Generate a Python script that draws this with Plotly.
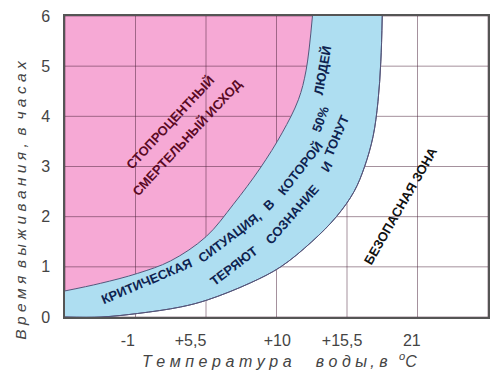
import plotly.graph_objects as go

# --- data (grid-column units on x, hours on y) ---
upper_x = [0.0, 0.5, 1.03, 1.5, 2.0, 2.39, 2.77, 3.08, 3.31, 3.42, 3.51]
upper_y = [0.52, 0.67, 0.87, 1.12, 1.6, 2.25, 2.97, 3.67, 4.33, 4.92, 6.0]

lower_x = [0.0, 0.51, 1.03, 1.64, 2.02, 2.63, 3.06, 3.5, 3.85, 4.1, 4.25, 4.37, 4.44, 4.48, 4.50]
lower_y = [0.0, 0.0, 0.07, 0.2, 0.34, 0.68, 1.0, 1.5, 2.0, 2.5, 3.0, 3.6, 4.3, 5.1, 6.0]

x_tick_pos = [0.89, 1.78, 3.01, 3.93, 4.92]
x_tick_text = ["-1", "+5,5", "+10", "+15,5", "21"]
y_tick_vals = [0, 1, 2, 3, 4, 5, 6]
grid_vals = [0, 1, 2, 3, 4, 5, 6]

PINK = "#F6A9D5"
BLUE = "#AEDEF1"
EDGE = "#55557A"
TXT = "#444444"

def spaced(s, sep="\u2009\u200a"):
    return sep.join(list(s))

fig = go.Figure()

# pink zone (between top edge and upper curve)
fig.add_trace(go.Scatter(x=[0, upper_x[-1]], y=[6, 6], mode="lines",
                         line=dict(width=0, color=PINK), hoverinfo="skip"))
fig.add_trace(go.Scatter(x=upper_x, y=upper_y, mode="lines", line_shape="spline",
                         fill="tonexty", fillcolor=PINK,
                         line=dict(width=0, color=PINK), hoverinfo="skip"))

# grid lines (over pink, under blue)
gx, gy = [], []
for v in grid_vals:
    gx += [v, v, None]
    gy += [0, 6, None]
for v in grid_vals:
    gx += [0, 6, None]
    gy += [v, v, None]
fig.add_trace(go.Scatter(x=gx, y=gy, mode="lines",
                         line=dict(width=1, color="rgba(75,35,60,0.5)"),
                         hoverinfo="skip"))

# blue band
fig.add_trace(go.Scatter(x=lower_x, y=lower_y, mode="lines", line_shape="spline",
                         line=dict(width=1, color=EDGE), hoverinfo="skip"))
fig.add_trace(go.Scatter(x=upper_x, y=upper_y, mode="lines", line_shape="spline",
                         fill="tonexty", fillcolor=BLUE,
                         line=dict(width=1, color=EDGE), hoverinfo="skip"))
fig.add_trace(go.Scatter(x=lower_x, y=lower_y, mode="lines", line_shape="spline",
                         line=dict(width=1, color=EDGE), hoverinfo="skip"))

FONT = "Liberation Sans, Arial, sans-serif"
MAROON = "#5A0A24"
NAVY = "#0E2350"

def px2data(px, py):
    return ((px - 65) / 70.5, (317 - py) / 50.17)

labels = [
    ("СТОПРОЦЕНТНЫЙ", 170, 122, -47, MAROON),
    ("СМЕРТЕЛЬНЫЙ ИСХОД", 187, 137, -47, MAROON),
    ("КРИТИЧЕСКАЯ", 146, 281, -23, NAVY),
    ("СИТУАЦИЯ,", 229, 237, -37, NAVY),
    ("В", 268, 205, -45, NAVY),
    ("КОТОРОЙ", 300, 168, -52, NAVY),
    ("50%", 320, 119, -70, NAVY),
    ("ЛЮДЕЙ", 322, 71, -80, NAVY),
    ("ТЕРЯЮТ", 233, 266, -37, NAVY),
    ("СОЗНАНИЕ", 292, 214, -49, NAVY),
    ("И", 326, 167, -58, NAVY),
    ("ТОНУТ", 336, 136, -67, NAVY),
    ("БЕЗОПАСНАЯ ЗОНА", 400, 206, -60, "#111111"),
]
for txt, px, py, ang, col in labels:
    x, y = px2data(px, py)
    fig.add_annotation(x=x, y=y, text="<b>" + txt + "</b>", textangle=ang,
                       showarrow=False, xanchor="center", yanchor="middle",
                       font=dict(family=FONT, size=13, color=col))

# axis titles
fig.add_annotation(xref="paper", yref="paper", x=0.508, y=-0.143,
                   text=spaced("Температура") + "\u2003\u2002" + spaced("воды") + "\u2009,\u2009\u200a" + "в\u2002\u2009<sup>o</sup>C",
                   showarrow=False, xanchor="center", yanchor="middle",
                   font=dict(family=FONT, size=16, color=TXT, style="italic"))
fig.add_annotation(xref="paper", yref="paper", x=-0.106, y=0.39, textangle=-90,
                   text=spaced("Время") + "\u2002" + spaced("выживания,") + "\u2002" + "в" + "\u2002" + spaced("часах"),
                   showarrow=False, xanchor="center", yanchor="middle",
                   font=dict(family=FONT, size=15.5, color=TXT, style="italic"))

fig.update_xaxes(range=[0, 6], tickmode="array", tickvals=x_tick_pos, ticktext=x_tick_text,
                 showgrid=False, zeroline=False, showline=True, mirror=True, automargin=False,
                 linecolor="#555555", linewidth=1.5, ticks="", ticklabelstandoff=8,
                 ticklabeloverflow="allow",
                 tickfont=dict(family="Liberation Sans, Arial", size=16, color=TXT))
fig.update_yaxes(range=[0, 6], tickmode="array", tickvals=y_tick_vals, automargin=False,
                 showgrid=False, zeroline=False, showline=True, mirror=True,
                 linecolor="#555555", linewidth=1.5, ticks="", ticklabelstandoff=10,
                 ticklabeloverflow="allow",
                 tickfont=dict(family="Liberation Sans, Arial", size=16, color=TXT))

# page body has an 8px margin, so the figure is sized to fit the 500x376 window
fig.update_layout(width=492, height=368, margin=dict(l=57, r=12, t=8, b=59),
                  paper_bgcolor="white", plot_bgcolor="white", showlegend=False,
                  hovermode=False)

fig.write_html("out.html")
